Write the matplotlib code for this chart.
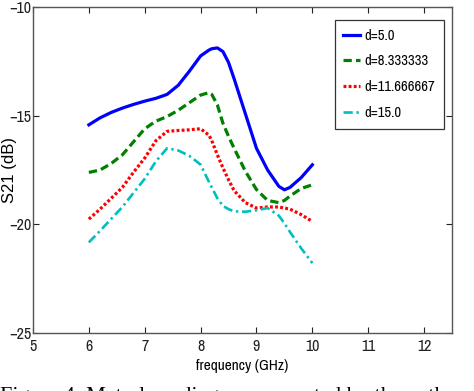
import matplotlib
matplotlib.use("Agg")
import matplotlib.pyplot as plt
from matplotlib import font_manager

# values
freq = [6.0, 6.2, 6.4, 6.6, 6.8, 7.0, 7.2, 7.4, 7.6, 7.8, 8.0, 8.15, 8.2, 8.3,
        8.4, 8.5, 8.6, 8.8, 9.0, 9.2, 9.4, 9.5, 9.6, 9.8, 10.0]
s21_d5 = [-15.42, -15.1, -14.85, -14.65, -14.48, -14.33, -14.2, -14.02, -13.6,
          -12.95, -12.25, -11.98, -11.92, -11.88, -12.05, -12.55, -13.3, -14.9,
          -16.5, -17.5, -18.25, -18.41, -18.3, -17.85, -17.26]
s21_d8 = [-17.61, -17.5, -17.2, -16.8, -16.2, -15.6, -15.25, -15.04, -14.75,
          -14.4, -14.05, -13.94, -14.02, -14.5, -15.35, -15.95, -16.5, -17.55,
          -18.4, -18.9, -19.0, -18.9, -18.7, -18.35, -18.18]
s21_d11 = [-19.76, -19.3, -18.8, -18.3, -17.6, -16.95, -16.15, -15.72, -15.68,
           -15.65, -15.6, -15.9, -16.15, -16.8, -17.4, -17.95, -18.45, -19.0,
           -19.25, -19.2, -19.2, -19.25, -19.3, -19.55, -19.87]
s21_d15 = [-20.83, -20.3, -19.75, -19.2, -18.55, -17.9, -17.1, -16.5, -16.6,
           -16.85, -17.25, -18.05, -18.3, -18.8, -19.15, -19.3, -19.4, -19.42,
           -19.35, -19.25, -19.6, -19.95, -20.35, -21.1, -21.78]
labels = ["d=5.0", "d=8.333333", "d=11.666667", "d=15.0"]

# look for a narrow sans face, fall back to Liberation Sans
names = sorted({f.name for f in font_manager.fontManager.ttflist})
narrow_names = [n for n in names if "Narrow" in n or "Condensed" in n]
if narrow_names:
    narrow = [narrow_names[0], "DejaVu Sans"]
    scale = 1.0
else:
    narrow = ["Liberation Sans", "DejaVu Sans"]
    scale = 0.85

fig = plt.figure(figsize=(4.74, 3.91), dpi=100)
ax = fig.add_axes([0.0696, 0.1483, 0.884, 0.8337])

ax.plot(freq, s21_d5, color="blue", lw=2.3, ls="-", label=labels[0])
ax.plot(freq, s21_d8, color="green", lw=2.3, ls=(0, (2.6, 1.3)), label=labels[1])
ax.plot(freq, s21_d11, color="red", lw=2.3, ls=(0, (0.9, 0.7)), label=labels[2])
ax.plot(freq, s21_d15, color="#00bfbf", lw=1.9, ls=(0, (3.5, 1.4, 0.9, 1.4)), label=labels[3])

ax.set_xlim(5, 12.5)
ax.set_ylim(-25, -10)
ax.set_xticks([5, 6, 7, 8, 9, 10, 11, 12])
ax.set_yticks([-25, -20, -15, -10])
ax.tick_params(direction="in", top=True, right=True, length=4, width=0.8,
               labelsize=11.5 * scale, colors="#222222")
ax.tick_params(axis="x", pad=4)
ax.tick_params(axis="y", pad=1)
for lab in ax.get_xticklabels() + ax.get_yticklabels():
    lab.set_family(narrow)
for sp in ax.spines.values():
    sp.set_color("#555555")
    sp.set_linewidth(1.0)

ax.set_xlabel("frequency (GHz)", family=narrow, fontsize=11 * scale, labelpad=4)
ax.set_ylabel("S21 (dB)", family="Liberation Sans", fontsize=12)
ax.yaxis.set_label_coords(-0.038, 0.5)

leg = ax.legend(loc="upper right", bbox_to_anchor=(0.981, 0.960),
                borderaxespad=0, prop={"family": narrow, "size": 10.5 * scale},
                handlelength=1.15, handletextpad=0.3, labelspacing=0.8,
                borderpad=0.6, fancybox=False, framealpha=1)
leg.get_frame().set_edgecolor("#333333")
leg.get_frame().set_linewidth(0.9)

fig.text(0.0, 1 - 386 / 391,
         "Figure 4. Meta-lens diagrams reported by the author et al. for different",
         family="Liberation Serif", fontsize=16, va="top", ha="left")

fig.savefig("out.png", dpi=100)
